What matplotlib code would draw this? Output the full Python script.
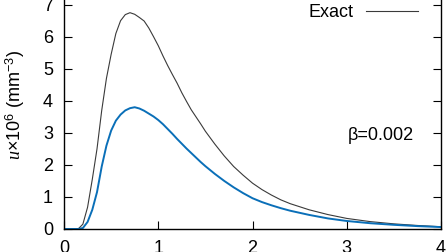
import numpy as np
import matplotlib
matplotlib.use("Agg")
import matplotlib.pyplot as plt

plt.rcParams['font.family'] = ['Liberation Sans', 'DejaVu Sans']
plt.rcParams['mathtext.fontset'] = 'custom'
plt.rcParams['mathtext.rm'] = 'Liberation Sans'
plt.rcParams['mathtext.it'] = 'Liberation Serif:italic'

# data
x_vals = [0.0, 0.15, 0.2, 0.25, 0.3, 0.35, 0.4, 0.45, 0.5, 0.55, 0.6, 0.65, 0.7, 0.75, 0.8, 0.85,
          0.9, 0.95, 1.0, 1.05, 1.1, 1.15, 1.2, 1.25, 1.3, 1.35, 1.4, 1.45, 1.5, 1.55, 1.6,
          1.7, 1.8, 1.9, 2.0, 2.1, 2.2, 2.3, 2.4, 2.6, 2.8, 3.0, 3.25, 3.5, 3.75, 4.0]
u_exact = [0.0, 0.0, 0.15, 0.68, 1.55, 2.5, 3.7, 4.7, 5.45, 6.1, 6.5, 6.69, 6.75, 6.7, 6.6, 6.49,
           6.27, 6.0, 5.72, 5.4, 5.1, 4.82, 4.55, 4.25, 3.98, 3.72, 3.5, 3.28, 3.05, 2.85, 2.65,
           2.28, 1.95, 1.68, 1.43, 1.23, 1.06, 0.91, 0.79, 0.6, 0.45, 0.33, 0.23, 0.16, 0.11, 0.07]
u_model = [0.0, 0.0, 0.03, 0.22, 0.6, 1.15, 1.95, 2.6, 3.07, 3.38, 3.57, 3.7, 3.77, 3.8, 3.76, 3.69,
           3.6, 3.51, 3.4, 3.27, 3.12, 2.97, 2.81, 2.66, 2.51, 2.37, 2.23, 2.09, 1.96, 1.84, 1.72,
           1.5, 1.3, 1.12, 0.96, 0.84, 0.74, 0.65, 0.57, 0.44, 0.33, 0.25, 0.18, 0.13, 0.09, 0.06]
beta_label = "β=0.002"

fig = plt.figure(figsize=(4.48, 2.52), dpi=100)
ax = fig.add_axes([0.1429, 0.0913, 0.8415, 0.9087])

ax.plot(x_vals, u_exact, color='#3a3a3a', lw=0.8, label='Exact')
ax.plot(x_vals, u_model, color='#0a6fb8', lw=1.4)

ax.set_xlim(0, 4)
ax.set_ylim(0, 7.146)
ax.set_xticks(range(0, 5))
ax.set_yticks(range(0, 8))
ax.tick_params(direction='in', length=5.5, width=0.8, labelsize=13, right=True, top=False)
ax.tick_params(axis='x', pad=8)
ax.tick_params(axis='y', pad=8)
for s in ['left', 'right', 'bottom']:
    ax.spines[s].set_linewidth(1.0)
ax.spines['top'].set_visible(False)

ax.set_ylabel(r'$\mathit{u}$×10$^6$ (mm$^{-3}$)', fontsize=13)
ax.yaxis.set_label_coords(-0.098, 0.54)

ax.text(3.71, 2.93, beta_label, ha='right', va='center', fontsize=13)

ax.legend(loc='center right', bbox_to_anchor=(0.939, 0.946), frameon=False, markerfirst=False,
          fontsize=13, handlelength=2.9, handletextpad=0.66, borderpad=0, borderaxespad=0)

fig.savefig('out.png', dpi=100)
